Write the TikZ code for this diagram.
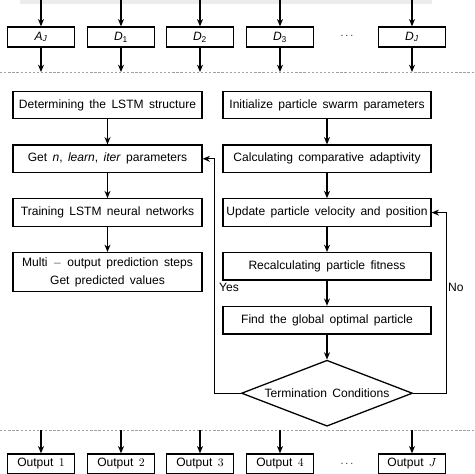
\documentclass[tikz,border=0pt]{standalone}
\usepackage{fontspec}
\setmainfont[WordSpace=1.6]{Liberation Sans}
\usetikzlibrary{shapes.geometric, arrows.meta, positioning, calc}
\definecolor{sepgray}{RGB}{160,160,160}
\definecolor{bandgray}{RGB}{236,236,236}

\begin{document}
\begin{tikzpicture}[
    x=0.03cm, y=-0.03cm,
    node distance=0.75cm,
    block/.style={rectangle, draw, line width=1.1pt, minimum width=6.24cm, minimum height=0.825cm, inner sep=1pt, font=\fontsize{10.3}{12}\selectfont},
    lblock/.style={block, minimum width=5.67cm},
    sigbox/.style={rectangle, draw, line width=1.1pt, minimum width=2.01cm, minimum height=0.6cm, inner sep=0pt, font=\fontsize{10.3}{12}\selectfont},
    decision/.style={diamond, draw, line width=1.1pt, aspect=2.6, inner sep=0pt, minimum width=5.13cm, minimum height=1.98cm, font=\fontsize{10.3}{12}\selectfont},
    arrow/.style={-{Stealth[length=2.2mm, width=1.8mm]}, line width=1.1pt},
    sepline/.style={draw=sepgray, dash pattern=on 2pt off 1.5pt, line width=0.8pt}
]
\clip (0,0) rectangle (474,474);
\fill[bandgray] (20,0) rectangle (432,3.5);

% decomposed signals
\node[sigbox] (aj) at (41,37) {\textit{A}\textsubscript{\textit{J}}};
\node[sigbox] (d1) at (121,37) {\textit{D}\textsubscript{1}};
\node[sigbox] (d2) at (200,37) {\textit{D}\textsubscript{2}};
\node[sigbox] (d3) at (280,37) {\textit{D}\textsubscript{3}};
\node[font=\small] (dots1) at (347,36) {$\cdots$};
\node[sigbox] (dj) at (412,37) {\textit{D}\textsubscript{\textit{J}}};

\coordinate (top) at (0,0);
\coordinate (sep1) at (0,72);
\coordinate (sep2) at (0,430);
\draw[sepline] (sep1) -- (474,72);
\draw[sepline] (sep2) -- (474,430);

\draw[arrow] (aj |- top) -- (aj);
\draw[arrow] (d1 |- top) -- (d1);
\draw[arrow] (d2 |- top) -- (d2);
\draw[arrow] (d3 |- top) -- (d3);
\draw[arrow] (dj |- top) -- (dj);
\draw[arrow] (aj) -- (aj |- sep1);
\draw[arrow] (d1) -- (d1 |- sep1);
\draw[arrow] (d2) -- (d2 |- sep1);
\draw[arrow] (d3) -- (d3 |- sep1);
\draw[arrow] (dj) -- (dj |- sep1);

% LSTM column
\node[lblock] (lstm) at (107.5,105) {Determining the LSTM structure};
\node[lblock, below=of lstm] (get) {Get \textit{n}, \textit{learn}, \textit{iter} parameters};
\node[lblock, below=of get] (train) {Training LSTM neural networks};
\node[lblock, below=of train, minimum height=1.17cm, align=center] (pred) {Multi $-$ output prediction steps\\[3pt] Get predicted values};

% PSO column
\node[block] (init) at (327,105) {Initialize particle swarm parameters};
\node[block, below=of init] (calc) {Calculating comparative adaptivity};
\node[block, below=of calc] (update) {Update particle velocity and position};
\node[block, below=of update] (refit) {Recalculating particle fitness};
\node[block, below=of refit] (best) {Find the global optimal particle};
\node[decision, below=of best] (stop) {Termination Conditions};

\draw[arrow] (lstm) -- (get);
\draw[arrow] (get) -- (train);
\draw[arrow] (train) -- (pred);
\draw[arrow] (init) -- (calc);
\draw[arrow] (calc) -- (update);
\draw[arrow] (update) -- (refit);
\draw[arrow] (refit) -- (best);
\draw[arrow] (best) -- (stop);
\draw[arrow] (stop.west) -- ++(-26,0) |- (get.east);
\draw[arrow] (stop.east) -- ++(33,0) |- (update.east);
\node[anchor=west, inner sep=0pt, font=\fontsize{10.3}{12}\selectfont] (yes) at (219,287) {Yes};
\node[anchor=west, inner sep=0pt, font=\fontsize{10.3}{12}\selectfont] (no) at (448,287) {No};

% outputs
\node[sigbox] (o1) at (41,464) {Output $1$};
\node[sigbox] (o2) at (121,464) {Output $2$};
\node[sigbox] (o3) at (200,464) {Output $3$};
\node[sigbox] (o4) at (280,464) {Output $4$};
\node[font=\small] (dots2) at (347,464) {$\cdots$};
\node[sigbox] (oj) at (412,464) {Output $J$};

\draw[arrow] (o1 |- sep2) -- (o1);
\draw[arrow] (o2 |- sep2) -- (o2);
\draw[arrow] (o3 |- sep2) -- (o3);
\draw[arrow] (o4 |- sep2) -- (o4);
\draw[arrow] (oj |- sep2) -- (oj);
\end{tikzpicture}
\end{document}
